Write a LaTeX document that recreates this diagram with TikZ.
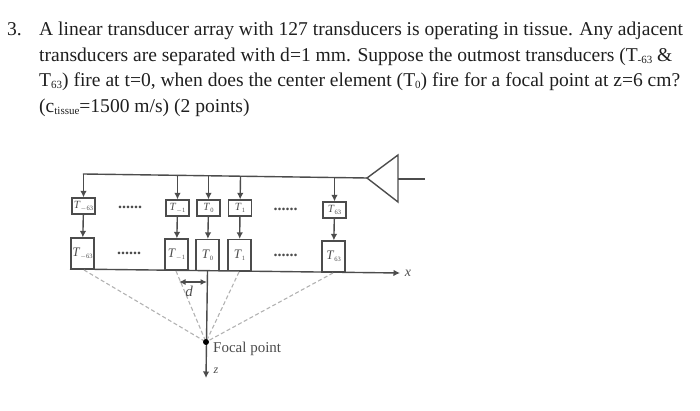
\documentclass[tikz,border=0pt]{standalone}
\usepackage{fontspec}
\setmainfont{Liberation Serif}
\usetikzlibrary{arrows.meta}
\definecolor{ink}{gray}{0.30}
\definecolor{body}{gray}{0.12}
\definecolor{dash}{gray}{0.70}
\newcommand{\qsub}[1]{{\fontsize{11}{11}\selectfont\raisebox{-1.2pt}{#1}}}
\newcommand{\tlab}[1]{\textit{T}{\fontsize{6.5}{6.5}\selectfont\raisebox{-2.2pt}{#1}}}
\tikzset{
  x=1pt,y=-1pt,
  qline/.style={anchor=base west,inner sep=0pt,text=body,font=\fontsize{19.55}{22}\selectfont},
  upbox/.style={draw=ink,line width=1.2pt,minimum width=23pt,minimum height=16pt,inner sep=0pt,text=ink,font=\fontsize{11}{11}\selectfont},
  lowbox/.style={draw=ink,line width=1.2pt,minimum width=23pt,minimum height=31pt,inner sep=0pt,text=ink,font=\fontsize{13}{13}\selectfont},
  wire/.style={draw=ink,line width=1.4pt},
  feed/.style={wire,-{Latex[length=6.5pt,width=6.5pt]}},
  beam/.style={draw=dash,line width=1.1pt,dash pattern=on 4pt off 2.5pt},
  ellip/.style={inner sep=0pt,text=ink,font=\bfseries\fontsize{16}{16}\selectfont},
  lab/.style={inner sep=0pt,text=ink}
}
\begin{document}
\begin{tikzpicture}
\useasboundingbox (0,0) rectangle (700,411);
% question text
\node[qline] (n3) at (7,36) {3.};
\node[qline] (l1) at (39,36) {A linear transducer array with 127 transducers is operating in tissue. Any adjacent};
\node[qline] (l2) at (39,62) {transducers are separated with d=1 mm. Suppose the outmost transducers (T\qsub{-63} \&};
\node[qline] (l3) at (39,87) {T\qsub{63}) fire at t=0, when does the center element (T\qsub{0}) fire for a focal point at z=6 cm?};
\node[qline] (l4) at (39,113) {(c\qsub{tissue}=1500 m/s) (2 points)};
% boxes
\node[upbox] (ua) at (83.5,206) {\tlab{$-$63}};
\node[upbox] (ub) at (177.5,208) {\tlab{$-$1}};
\node[upbox] (uc) at (208.5,208) {\tlab{0}};
\node[upbox] (ud) at (240,208) {\tlab{1}};
\node[upbox] (ue) at (334.5,210) {\tlab{63}};
\node[lowbox] (la) at (82.5,253.5) {\tlab{$-$63}};
\node[lowbox] (lb) at (176.5,254.5) {\tlab{$-$1}};
\node[lowbox] (lc) at (207.5,255) {\tlab{0}};
\node[lowbox] (ld) at (239.5,255) {\tlab{1}};
\node[lowbox] (le) at (333.5,256.5) {\tlab{63}};
% bus
\coordinate (ba) at (83.5,174);
\coordinate (bb) at (177.5,176);
\coordinate (bc) at (208.5,176.5);
\coordinate (bd) at (240.5,177);
\coordinate (be) at (334.5,177.5);
\coordinate (apex) at (367,178);
\coordinate (tt) at (398,155);
\coordinate (tb) at (398,202);
\coordinate (out) at (425,179);
\coordinate (outs) at (398,179);
\draw[wire,line cap=rect] (ba) -- (apex);
\draw[wire,line join=miter] (apex) -- (tt) -- (tb) -- cycle;
\draw[wire] (outs) -- (out);
\draw[feed] (ba) -- (ua);
\draw[feed] (bb) -- (ub);
\draw[feed] (bc) -- (uc);
\draw[feed] (bd) -- (ud);
\draw[feed] (be) -- (ue);
\draw[feed] (ua) -- (la);
\draw[feed] (ub) -- (lb);
\draw[feed] (uc) -- (lc);
\draw[feed] (ud) -- (ld);
\draw[feed] (ue) -- (le);
% dotted groups
\node[ellip] (d1) at (130,207) {......};
\node[ellip] (d2) at (129,253) {......};
\node[ellip] (d3) at (285.5,209) {......};
\node[ellip] (d4) at (285.5,255) {......};
% axes
\coordinate (x0) at (70,269);
\coordinate (x1) at (400,273);
\draw[feed] (x0) -- (x1);
\node[lab,font=\itshape\fontsize{14}{14}\selectfont] (xl) at (408,273) {x};
\coordinate (z0) at (207.5,271);
\coordinate (z1) at (206,378);
\draw[feed] (z0) -- (z1);
\node[lab,font=\itshape\fontsize{12}{12}\selectfont] (zl) at (216,371) {z};
% beams
\coordinate (sa) at (84,270);
\coordinate (sb) at (176,271);
\coordinate (sd) at (239,272);
\coordinate (se) at (333,273);
\coordinate (fc) at (206,342);
\draw[beam] (sa) -- (fc);
\draw[beam] (sb) -- (fc);
\draw[beam] (sd) -- (fc);
\draw[beam] (se) -- (fc);
% focal point
\node[circle,fill=black,minimum size=6pt,inner sep=0pt] (fp) at (fc) {};
\node[lab,anchor=base west,font=\fontsize{15}{15}\selectfont] (fl) at (213,352) {Focal point};
% pitch
\coordinate (pa) at (179,282);
\coordinate (pb) at (207,282);
\draw[wire,{Latex[length=6.5pt,width=6pt]}-{Latex[length=6.5pt,width=6pt]}] (pa) -- (pb);
\node[lab,font=\itshape\fontsize{15}{15}\selectfont] (dl) at (189,291) {d};
\end{tikzpicture}
\end{document}
